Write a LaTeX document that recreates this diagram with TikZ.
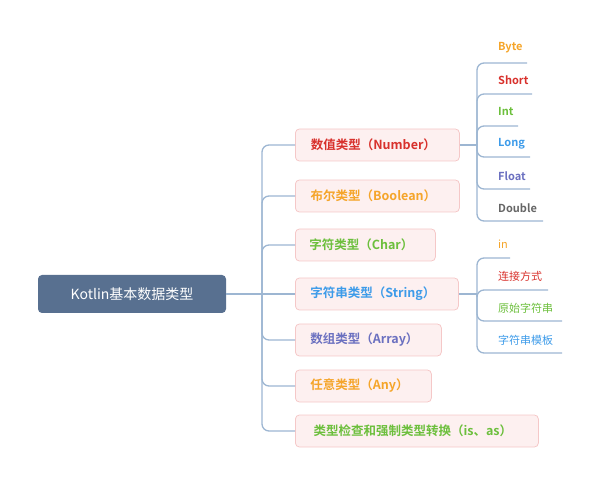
\documentclass[tikz,border=0pt]{standalone}
\usepackage{fontspec}
\setmainfont{Noto Sans CJK SC}
\newfontfamily\cjkb[FakeBold=0]{Noto Sans CJK SC Bold}
\definecolor{ln}{HTML}{9DB6D2}
\definecolor{rootc}{HTML}{587090}
\definecolor{bfill}{HTML}{FDF0F0}
\definecolor{bline}{HTML}{F5C8C8}
\definecolor{cred}{HTML}{D8312C}
\definecolor{cora}{HTML}{F5A52A}
\definecolor{cgrn}{HTML}{6CBF3C}
\definecolor{cblu}{HTML}{3D9BE9}
\definecolor{cpur}{HTML}{6B70C0}
\definecolor{cgry}{HTML}{666666}
\begin{document}
\begin{tikzpicture}[x=1pt,y=-1pt,
  conn/.style={draw=ln,line width=1.3pt,rounded corners=7pt},
  lvl/.style={draw=bline,fill=bfill,rounded corners=4pt,line width=0.8pt,anchor=west,minimum height=32pt,inner xsep=0pt,font=\cjkb\fontsize{12.5}{14}\selectfont},
  leaf/.style={anchor=west,inner sep=0pt,font=\fontsize{11}{13}\selectfont},
  leafb/.style={leaf,font=\cjkb\fontsize{11}{13}\selectfont}]
\useasboundingbox (0,0) rectangle (600,486);
\node[fill=rootc,text=white,rounded corners=4pt,minimum width=188pt,minimum height=38pt,font=\fontsize{14}{16}\selectfont] (root) at (132,294) {Kotlin基本数据类型};
\coordinate (tj) at (262,294);
\node[lvl,minimum width=164pt,text=cred] (n1) at (295,145) {\hspace*{-8pt}数值类型（Number）};
\node[lvl,minimum width=164pt,text=cora] (n2) at (295,196) {\hspace*{-8pt}布尔类型（Boolean）};
\node[lvl,minimum width=140pt,text=cgrn] (n3) at (295,245) {\hspace*{-8pt}字符类型（Char）};
\node[lvl,minimum width=163pt,text=cblu] (n4) at (295,294) {\hspace*{-8pt}字符串类型（String）};
\node[lvl,minimum width=146pt,text=cpur] (n5) at (295,340) {\hspace*{-8pt}数组类型（Array）};
\node[lvl,minimum width=136pt,text=cora] (n6) at (295,386) {\hspace*{-8pt}任意类型（Any）};
\node[lvl,minimum width=243pt,text=cgrn] (n7) at (295,431) {\hspace*{-8pt}类型检查和强制类型转换（is、as）};
\draw[conn] (root.east) -- (tj);
\foreach \n in {n1,n2,n3,n5,n6,n7} \draw[conn] (tj) |- (\n.west);
\draw[conn] (tj) -- (n4.west);
% number children
\coordinate (j1) at (477,145);
\draw[conn] (n1.east) -- (j1);
\foreach \t/\c/\f/\yt/\yl/\xe/\nm in {Byte/cora/leafb/48/63/527/a1,Short/cred/leafb/80/94/532/a2,Int/cgrn/leafb/112/126/518/a3,Long/cblu/leafb/144/157/530/a4,Float/cpur/leafb/176/189/530/a5,Double/cgry/leafb/208/221/543/a6}{
  \node[\f,text=\c] (\nm) at (498,\yt) {\t};
  \coordinate (\nm e) at (\xe,\yl);
  \draw[conn] (j1) |- (\nm e);
}
% string children
\coordinate (j2) at (477,294);
\draw[conn] (n4.east) -- (j2);
\foreach \t/\c/\yt/\yl/\xe/\nm in {in/cora/244/258/510/b1,连接方式/cred/276/290/548/b2,原始字符串/cgrn/308/321/562/b3,字符串模板/cblu/340/353/562/b4}{
  \node[leaf,text=\c] (\nm) at (498,\yt) {\t};
  \coordinate (\nm e) at (\xe,\yl);
  \draw[conn] (j2) |- (\nm e);
}
\end{tikzpicture}
\end{document}
